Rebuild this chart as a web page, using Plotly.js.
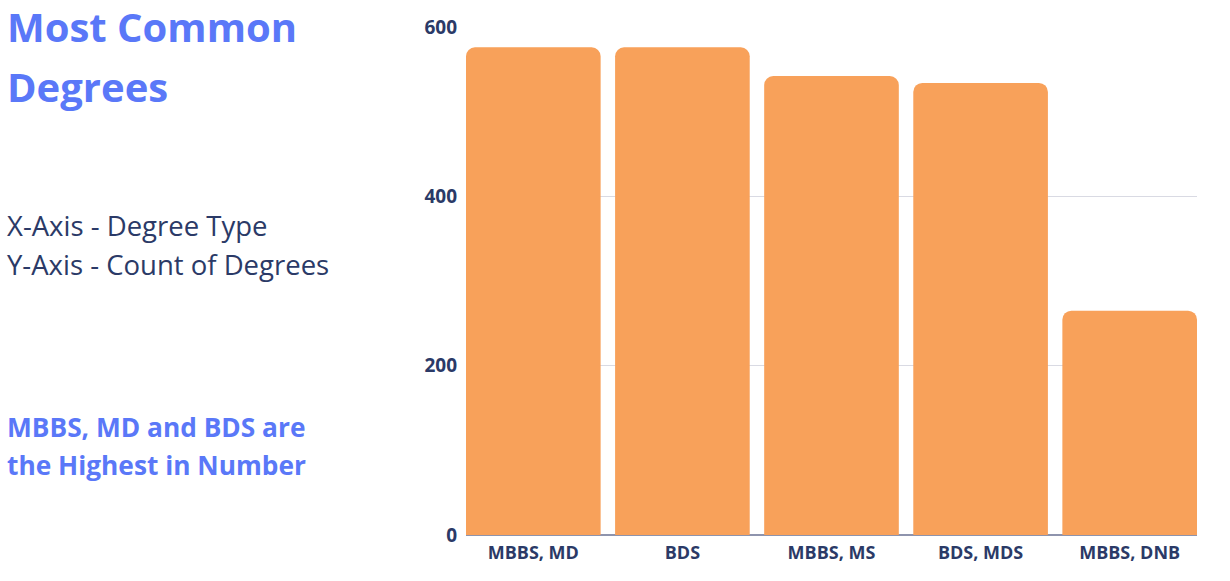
<!DOCTYPE html>
<html>
<head>
<meta charset="utf-8">
<script src="https://cdn.plot.ly/plotly-3.0.1.min.js"></script>
<style>html,body{margin:0;padding:0;background:#fff;}#chart{width:1230px;height:581px;}</style>
</head>
<body>
<div id="chart"></div>
<script>
const categories = ["MBBS, MD", "BDS", "MBBS, MS", "BDS, MDS", "MBBS, DNB"];
const counts = [576, 576, 542, 534, 265];
const yTicks = [0, 200, 400, 600];

const FONT = "Open Sans";
const NAVY = "#2B3A67";
const BLUE = "#5A78F8";
const L = 466, R = 1197, T = 27, B = 535;
const px = x => (x - L) / (R - L);
const py = y => (B - y) / (B - T);

function ann(text, x, y, size, color, bold) {
  return {text: bold ? "<b>" + text + "</b>" : text, xref: "paper", yref: "paper",
    x: px(x), y: py(y), xanchor: "left", yanchor: "middle", showarrow: false,
    font: {family: FONT, size: size, color: color}};
}

const gap = 0.097;
Plotly.newPlot("chart", [{
  type: "bar", x: categories, y: counts,
  marker: {color: "#F8A15A", cornerradius: 9},
  hoverinfo: "x+y"
}], {
  width: 1230, height: 581,
  margin: {l: L, r: 1230 - R, t: T, b: 581 - B, pad: 0},
  paper_bgcolor: "#fff", plot_bgcolor: "#fff",
  bargap: gap,
  showlegend: false,
  xaxis: {
    type: "category",
    range: [-0.5 + gap / 2, categories.length - 0.5 - gap / 2],
    showgrid: false, zeroline: false, showline: false, ticks: "",
    ticklabelstandoff: 5,
    tickfont: {family: FONT, size: 18, color: NAVY, weight: "bold"}
  },
  yaxis: {
    range: [0, 600], tickvals: yTicks, ticktext: yTicks.map(String),
    showgrid: true, gridcolor: "#D9DAE3", gridwidth: 1,
    zeroline: true, zerolinecolor: "#8E94AD", zerolinewidth: 1.5,
    showline: false, ticks: "", ticklabelstandoff: 8,
    tickfont: {family: FONT, size: 19, color: NAVY, weight: "bold"}
  },
  annotations: [
    ann("Most Common", 5, 26, 40, BLUE, true),
    ann("Degrees", 5, 86, 40, BLUE, true),
    ann("X-Axis - Degree Type", 5, 226, 27.5, NAVY, false),
    ann("Y-Axis - Count of Degrees", 5, 264, 27.5, NAVY, false),
    ann("MBBS, MD and BDS are", 5, 427, 26.3, BLUE, true),
    ann("the Highest in Number", 5, 465, 26.3, BLUE, true)
  ]
}, {displayModeBar: false});
</script>
</body>
</html>
